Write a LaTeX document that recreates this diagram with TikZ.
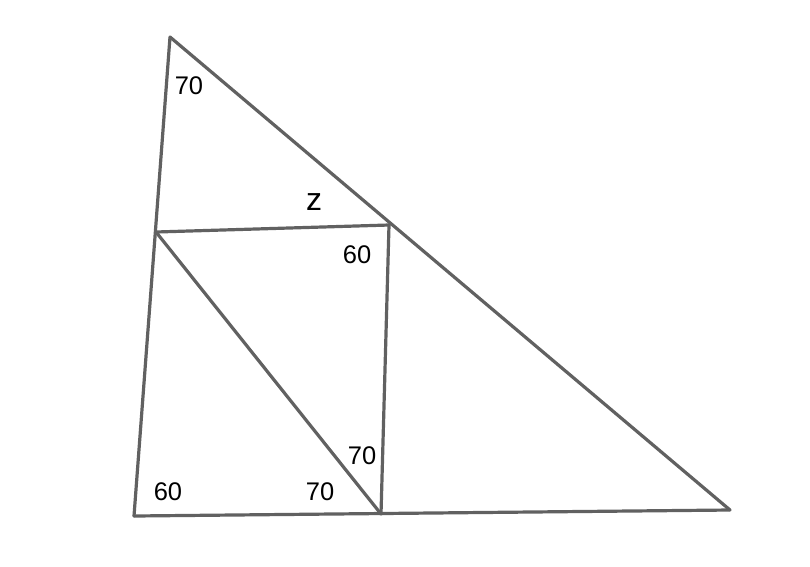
\documentclass[tikz,border=0pt]{standalone}
\usepackage{fontspec}
\setmainfont{Liberation Sans}
\usepackage{tikz}
\usetikzlibrary{positioning}

\begin{document}
\begin{tikzpicture}[x=1pt,y=-1pt,line width=3.2pt,line cap=round,line join=round]
\tikzstyle{ang}=[inner sep=0pt,font=\fontsize{25.5}{30}\selectfont]
\tikzstyle{var}=[inner sep=0pt,font=\fontsize{32}{38}\selectfont]
\tikzstyle{seg}=[draw=black!62]
\useasboundingbox (0,0) rectangle (810,566);

\coordinate	(A)	at (170,37);
\coordinate	(B)	at (134,516);
\coordinate	(C)	at (730,510);
\coordinate	(D)	at (156,232);
\coordinate	(E)	at (389,225);
\coordinate	(F)	at (381,514);

\node[ang]	(aA)	at (189,86)		{70};
\node[var]	(z)		at (314,202)	{z};
\node[ang]	(aE)	at (357,255)	{60};
\node[ang]	(aFu)	at (362,456)	{70};
\node[ang]	(aB)	at (168,492)	{60};
\node[ang]	(aFl)	at (320,492)	{70};

\path[seg]	(A)	edge	(B)
	(A)	edge	(C)
	(B)	edge	(C)
	(D)	edge	(E)
	(E)	edge	(F)
	(D)	edge	(F);
\end{tikzpicture}
\end{document}
